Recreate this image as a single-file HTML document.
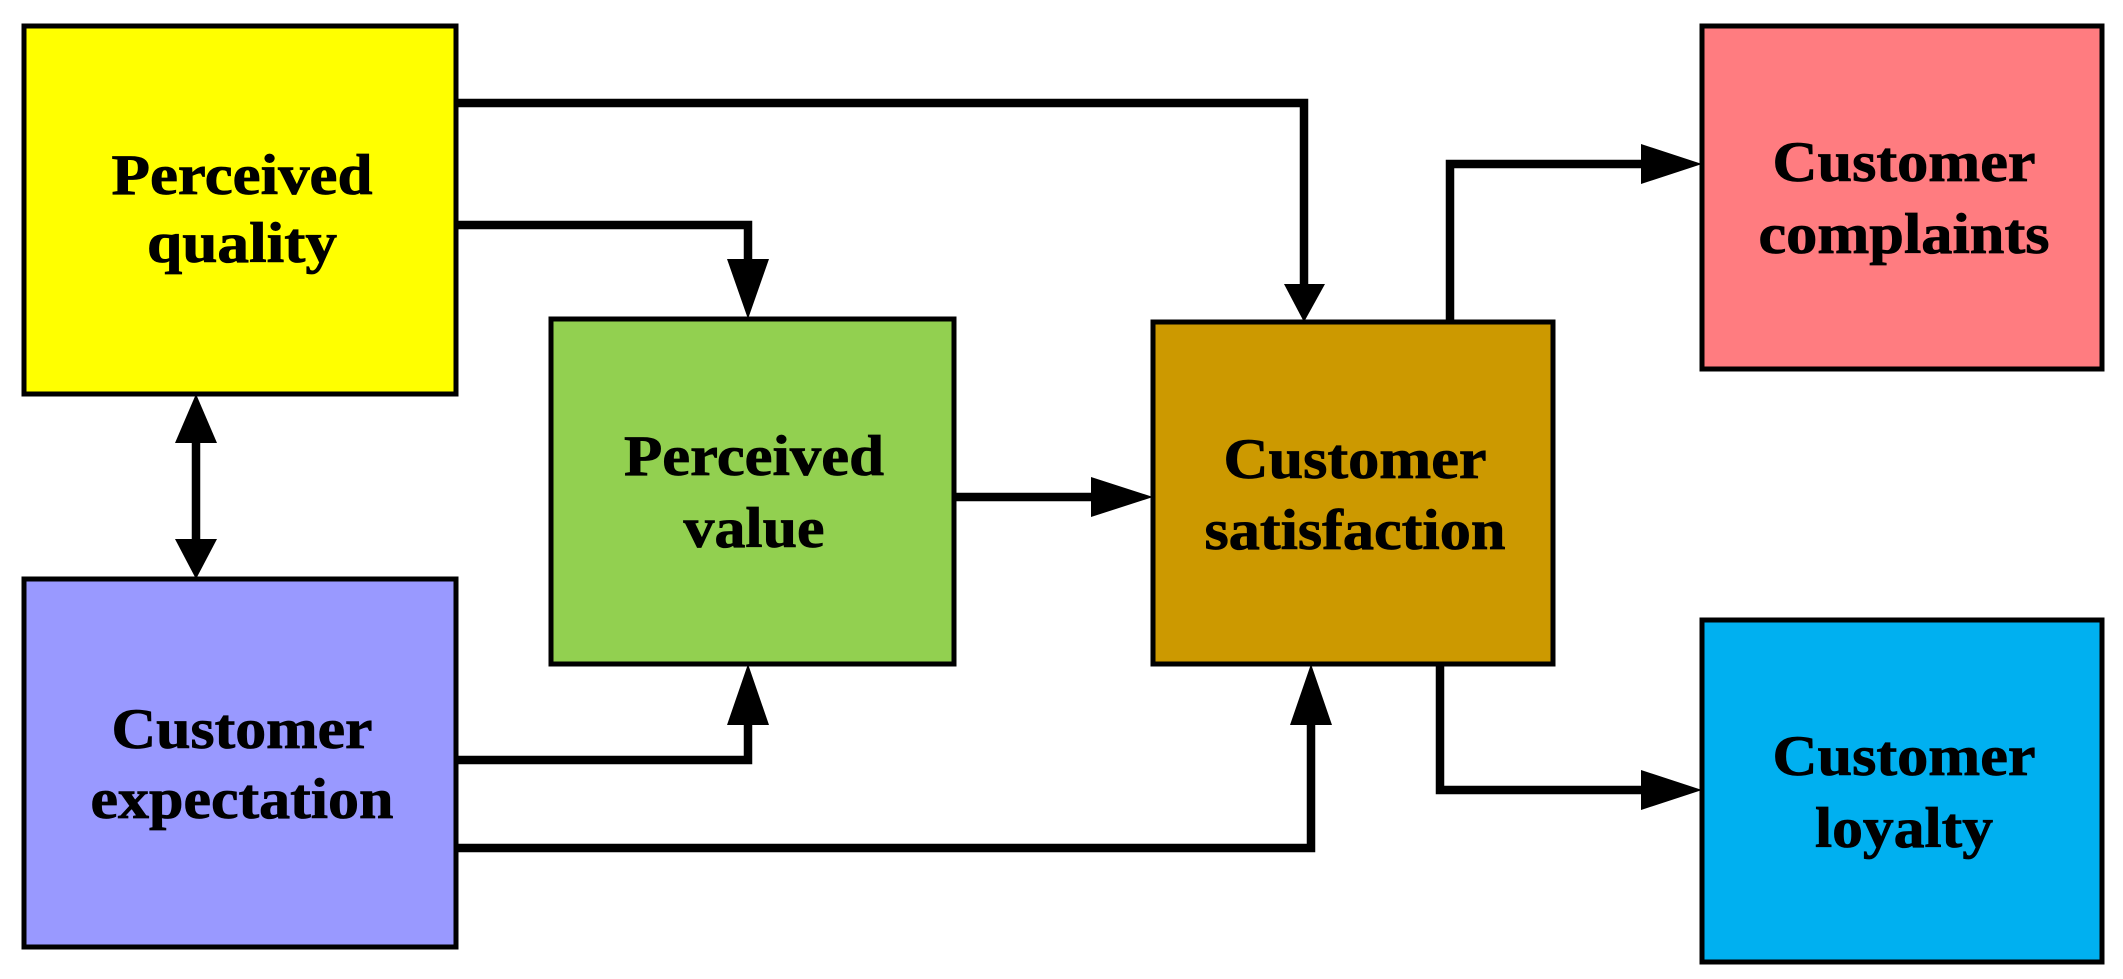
<!DOCTYPE html>
<html><head><meta charset="utf-8"><style>html,body{margin:0;padding:0;background:#fff}svg{display:block}</style></head>
<body>
<svg width="2123" height="979" viewBox="0 0 2123 979" xmlns="http://www.w3.org/2000/svg">
<g stroke="#000" stroke-width="5">
<rect x="24" y="26" width="432" height="368" fill="#FFFF00"/>
<rect x="24" y="579" width="432" height="368" fill="#9999FF"/>
<rect x="551" y="319" width="403" height="345" fill="#92D050"/>
<rect x="1153" y="322" width="400" height="342" fill="#CC9900"/>
<rect x="1702" y="26" width="400" height="343" fill="#FF7C80"/>
<rect x="1702" y="620" width="400" height="342" fill="#00B0F0"/>
</g>
<g stroke="#000" stroke-width="8.5" fill="none" stroke-linejoin="miter">
<polyline points="456,103 1304,103 1304,286"/>
<polyline points="456,225 748,225 748,261"/>
<polyline points="456,760 748,760 748,723"/>
<polyline points="456,848 1311,848 1311,723"/>
<polyline points="954,497 1093,497"/>
<polyline points="1450,322 1450,164 1643,164"/>
<polyline points="1440,664 1440,790 1643,790"/>
<line x1="196" y1="440" x2="196" y2="542"/>
</g>
<g fill="#000">
<polygon points="727,259 769,259 748,319"/>
<polygon points="727,725 769,725 748,664"/>
<polygon points="1284,284 1325,284 1304,322"/>
<polygon points="1290,725 1332,725 1311,664"/>
<polygon points="1091,477 1091,517 1153,497"/>
<polygon points="1641,144 1641,184 1702,164"/>
<polygon points="1641,770 1641,810 1702,790"/>
<polygon points="175,443 217,443 196,394"/>
<polygon points="175,539 217,539 196,579"/>
</g>
<g font-family="'Liberation Serif',serif" font-weight="bold" font-size="57" fill="#000" stroke="#000" stroke-width="0.8" text-anchor="middle">
<text x="242" y="194" textLength="261" lengthAdjust="spacingAndGlyphs">Perceived</text>
<text x="242" y="262" textLength="190" lengthAdjust="spacingAndGlyphs">quality</text>
<text x="242" y="748" textLength="261" lengthAdjust="spacingAndGlyphs">Customer</text>
<text x="242" y="818" textLength="303" lengthAdjust="spacingAndGlyphs">expectation</text>
<text x="754" y="475" textLength="260" lengthAdjust="spacingAndGlyphs">Perceived</text>
<text x="754" y="547" textLength="141" lengthAdjust="spacingAndGlyphs">value</text>
<text x="1355" y="478" textLength="263" lengthAdjust="spacingAndGlyphs">Customer</text>
<text x="1355" y="549" textLength="301" lengthAdjust="spacingAndGlyphs">satisfaction</text>
<text x="1904" y="181" textLength="263" lengthAdjust="spacingAndGlyphs">Customer</text>
<text x="1904" y="253" textLength="291" lengthAdjust="spacingAndGlyphs">complaints</text>
<text x="1904" y="775" textLength="263" lengthAdjust="spacingAndGlyphs">Customer</text>
<text x="1904" y="847" textLength="178" lengthAdjust="spacingAndGlyphs">loyalty</text>
</g>
</svg>
</body></html>
